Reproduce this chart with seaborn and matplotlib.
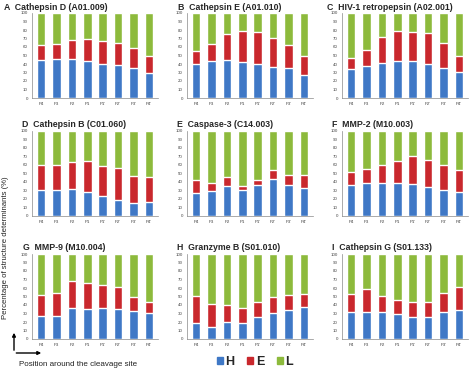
import numpy as np
import pandas as pd
import matplotlib
matplotlib.use("Agg")
import matplotlib.pyplot as plt
import seaborn as sns
from matplotlib.patches import Patch

sns.set_style("white")
plt.rcParams['font.family'] = ['Liberation Sans', 'DejaVu Sans']

positions = ["P4", "P3", "P2", "P1", "P1'", "P2'", "P3'", "P4'"]

titles = ["A  Cathepsin D (A01.009)", "B  Cathepsin E (A01.010)", "C  HIV-1 retropepsin (A02.001)",
          "D  Cathepsin B (C01.060)", "E  Caspase-3 (C14.003)", "F  MMP-2 (M10.003)",
          "G  MMP-9 (M10.004)", "H  Granzyme B (S01.010)", "I  Cathepsin G (S01.133)"]

# porcentaje de H (helice) y E (lamina) por posicion; L es el resto
h_A = [45, 46, 46, 43, 40, 39, 35, 29]
e_A = [17, 18, 22, 27, 27, 26, 24, 20]
h_B = [40, 44, 45, 42, 40, 37, 35, 27]
e_B = [15, 20, 30, 37, 38, 34, 27, 23]
h_C = [34, 38, 41, 44, 43, 40, 35, 31]
e_C = [13, 18, 31, 35, 35, 37, 30, 19]
h_D = [31, 31, 32, 28, 24, 19, 15, 17]
e_D = [29, 29, 32, 37, 35, 37, 32, 29]
h_E = [27, 29, 35, 31, 37, 44, 36, 33]
e_E = [15, 10, 11, 4, 5, 10, 12, 15]
h_F = [37, 39, 39, 39, 38, 34, 31, 28]
e_F = [15, 16, 21, 26, 32, 32, 29, 26]
h_G = [27, 27, 37, 35, 37, 35, 33, 31]
e_G = [25, 27, 31, 31, 26, 26, 17, 13]
h_H = [19, 14, 20, 19, 26, 31, 34, 38]
e_H = [32, 27, 20, 17, 18, 19, 18, 15]
h_I = [32, 32, 32, 29, 26, 26, 32, 34]
e_I = [21, 27, 19, 17, 18, 17, 22, 27]

h_all = [h_A, h_B, h_C, h_D, h_E, h_F, h_G, h_H, h_I]
e_all = [e_A, e_B, e_C, e_D, e_E, e_F, e_G, e_H, e_I]

c_h = "#3f78c6"
c_e = "#c9282d"
c_l = "#8dba3c"

fig = plt.figure(figsize=(4.74, 3.75), dpi=100)

lefts = [32, 187, 342]
tops = [13, 131, 254]
W, H = 126, 85
# posicion x de la letra de cada panel
title_x = [4, 178, 327, 22, 177, 332, 23, 177, 332]

for i in range(9):
    r, c = divmod(i, 3)
    x0 = lefts[c] / 474
    y0 = 1 - (tops[r] + H) / 375
    ax = fig.add_axes([x0, y0, W / 474, H / 375])
    h = np.array(h_all[i])
    e = np.array(e_all[i])
    l = 100 - h - e
    df = pd.DataFrame({"pos": positions, "H": h, "HE": h + e, "HEL": h + e + l})
    # barras acumuladas: de atras hacia adelante
    sns.barplot(data=df, x="pos", y="HEL", color=c_l, width=0.55, saturation=1, ax=ax)
    sns.barplot(data=df, x="pos", y="HE", color=c_e, width=0.55, saturation=1, ax=ax)
    sns.barplot(data=df, x="pos", y="H", color=c_h, width=0.55, saturation=1, ax=ax)
    ax.set_ylim(0, 100)
    ax.set_yticks(range(0, 101, 10))
    ax.set_xlim(-0.6, 7.6)
    ax.set_xlabel("")
    ax.set_ylabel("")
    ax.tick_params(axis="both", labelsize=3.2, length=1.5, width=0.5, pad=1.5, colors="#444444")
    for s in ["top", "right"]:
        ax.spines[s].set_visible(False)
    for s in ["left", "bottom"]:
        ax.spines[s].set_linewidth(0.5)
        ax.spines[s].set_color("#888888")
    fig.text(title_x[i] / 474, 1 - (tops[r] - 6) / 375, titles[i],
             fontsize=6.3, fontweight="bold", ha="left", va="center")

fig.text(6 / 474, 1 - 248 / 375, "Percentage of structure determinants (%)",
         rotation=90, fontsize=5.6, ha="center", va="center", color="#222222")

fig.add_artist(matplotlib.patches.FancyArrowPatch((14 / 474, 1 - 353 / 375), (14 / 474, 1 - 330 / 375),
               transform=fig.transFigure, arrowstyle="-|>", mutation_scale=5, lw=1, color="black"))
fig.add_artist(matplotlib.patches.FancyArrowPatch((13.5 / 474, 1 - 353 / 375), (44 / 474, 1 - 353 / 375),
               transform=fig.transFigure, arrowstyle="-|>", mutation_scale=5, lw=1, color="black"))
fig.text(19 / 474, 1 - 364 / 375, "Position around the cleavage site", fontsize=5.8,
         ha="left", va="center", color="#222222")

handles = [Patch(color=c_h, label="H"), Patch(color=c_e, label="E"), Patch(color=c_l, label="L")]
leg = fig.legend(handles=handles, loc="center", bbox_to_anchor=(255 / 474, 1 - 362 / 375), ncol=3,
                 frameon=False, handlelength=0.5, handleheight=0.5, handletextpad=0.2,
                 columnspacing=1.0, prop={"size": 9, "weight": "bold"})

fig.savefig("out.png", dpi=100)
